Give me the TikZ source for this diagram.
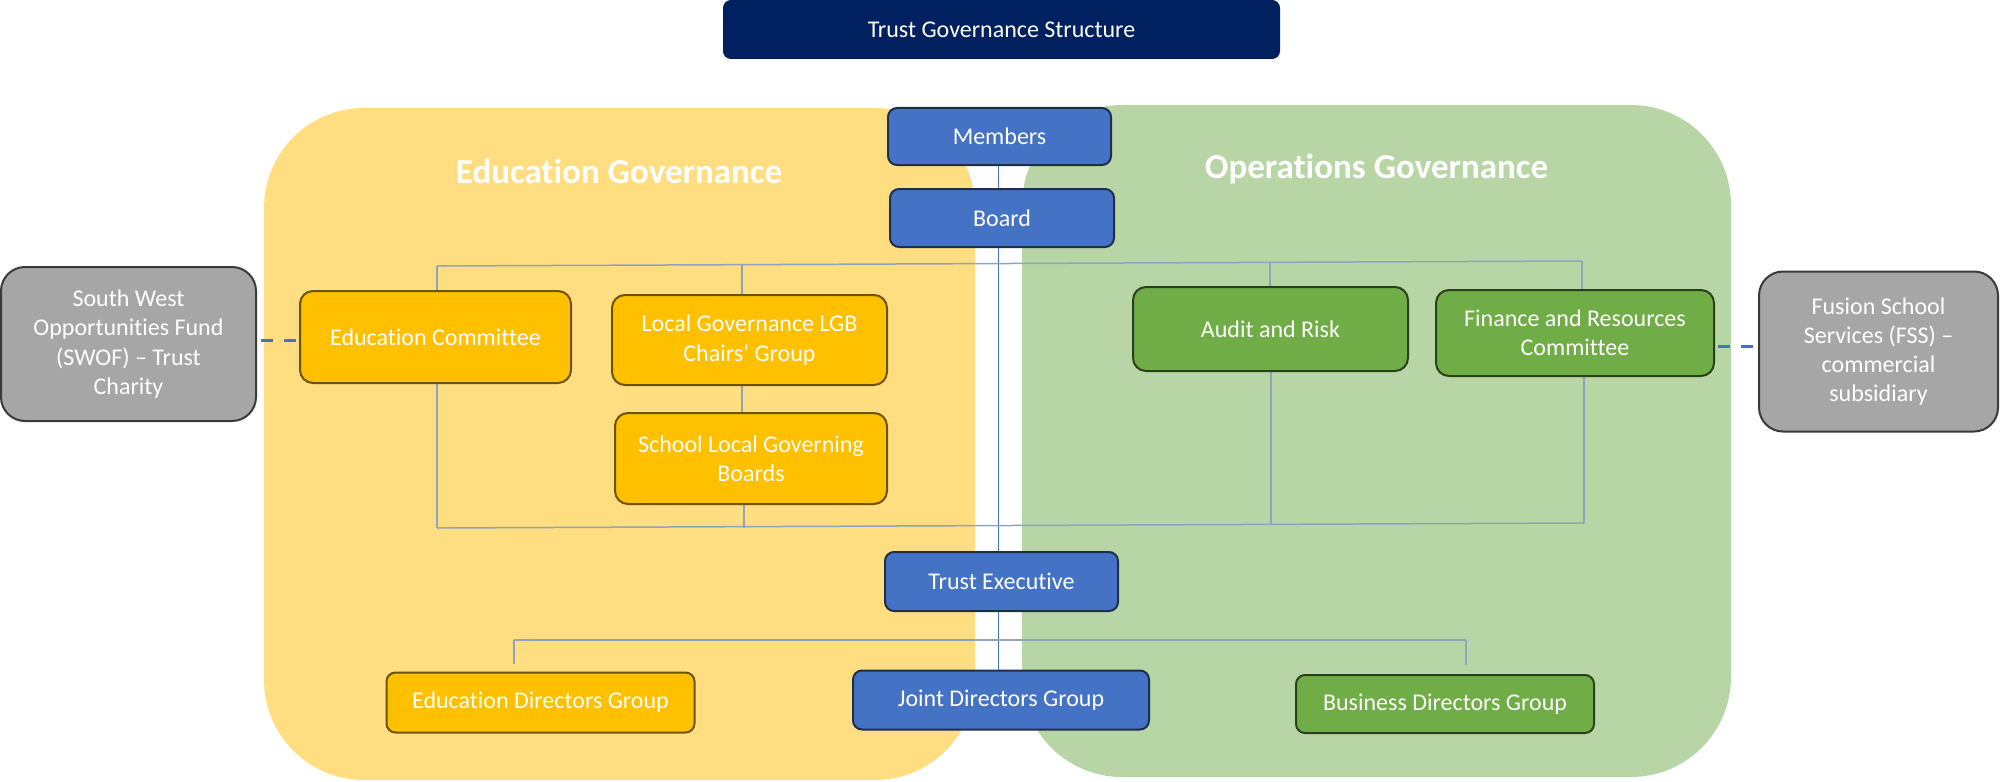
\documentclass[tikz,border=0pt]{standalone}
\usepackage{fontspec}
\setmainfont{Carlito}[Ligatures={NoCommon}]
\definecolor{navy}{HTML}{002060}
\definecolor{bluebox}{HTML}{4472C4}
\definecolor{blueedge}{HTML}{1F2E4F}
\definecolor{orangebox}{HTML}{FFC000}
\definecolor{orangeedge}{HTML}{6B5310}
\definecolor{greenbox}{HTML}{70AD47}
\definecolor{greenedge}{HTML}{2A3F1E}
\definecolor{graybox}{HTML}{A6A6A6}
\definecolor{grayedge}{HTML}{3A3A3A}
\definecolor{yellowbg}{HTML}{FFDE82}
\definecolor{greenbg}{HTML}{B8D6A5}
\definecolor{busline}{HTML}{8EA4BF}
\tikzset{
  box/.style={draw, line width=1pt, rounded corners=4.5pt, text=white, align=center, inner sep=0pt,
    font=\fontsize{12}{14.6}\selectfont},
  bluebx/.style={box, fill=bluebox, draw=blueedge},
  orangebx/.style={box, fill=orangebox, draw=orangeedge, rounded corners=6.5pt},
  greenbx/.style={box, fill=greenbox, draw=greenedge, rounded corners=6.5pt},
  graybx/.style={box, fill=graybox, draw=grayedge, rounded corners=12pt},
  bus/.style={draw=busline, line width=0.75pt},
  spine/.style={draw=bluebox, line width=0.45pt},
  dashlink/.style={draw=bluebox, line width=1.5pt, dash pattern=on 6pt off 5.5pt},
  govlabel/.style={text=white, font=\fontsize{17.5}{20}\selectfont\bfseries},
}
\begin{document}
\begin{tikzpicture}[x=0.5pt,y=-0.5pt]
\useasboundingbox (0,0) rectangle (2000,781);
% backgrounds
\fill[yellowbg, rounded corners=50pt] (264,108) rectangle (975,780);
\fill[greenbg, rounded corners=50pt] (1022,105) rectangle (1731,777);
\node[govlabel] (eg) at (619,171) {Education Governance};
\node[govlabel] (og) at (1376.5,169) {Operations Governance};

% nodes
\node[box, fill=navy, draw=navy, rounded corners=3.5pt, minimum width=277.5pt, minimum height=28.5pt] (title) at (1001.5,29.5) {Trust Governance Structure};

\coordinate (sp) at (998,0);
\coordinate (tbl) at (437,266);
\coordinate (tbr) at (1582,261);
\coordinate (bbl) at (437,528);
\coordinate (bbr) at (1584,523);
\coordinate (lbl) at (514,640);
\coordinate (lbr) at (1466,640);
\coordinate (lel) at (514,664);
\coordinate (ler) at (1466,665);

% connectors (drawn first, nodes on top)
\path[spine] (998,165) -- (998,672);
\path[bus] (tbl) -- (tbr);
\path[bus] (bbl) -- (bbr);
\path[bus] (tbl) -- (437,291);
\path[bus] (742,265) -- (742,295);
\path[bus] (1270,262) -- (1270,287);
\path[bus] (437,383) -- (bbl);
\path[bus] (742,385) -- (742,413);
\path[bus] (744,504) -- (744,528);
\path[bus] (1271,371) -- (1271,524);
\path[bus] (tbr) -- (1582,290);
\path[bus] (1584,376) -- (bbr);
\path[bus] (lbl) -- (lbr);
\path[bus] (lbl) -- (lel);
\path[bus] (lbr) -- (ler);

\node[bluebx, minimum width=111.5pt, minimum height=28.5pt] (mem) at (999.5,136.5) {Members};
\node[bluebx, minimum width=112pt, minimum height=29pt] (board) at (1002,218) {Board};
\node[orangebx, minimum width=135.5pt, minimum height=46pt] (edc) at (435.5,337) {Education Committee};
\node[orangebx, minimum width=137.5pt, minimum height=45pt] (lgb) at (749.5,340) {Local Governance LGB\\Chairs’ Group};
\node[orangebx, minimum width=136pt, minimum height=45.5pt] (slgb) at (751,458.5) {School Local Governing\\Boards};
\node[graybx, minimum width=127.5pt, minimum height=77pt] (swof) at (128.5,344) {South West\\Opportunities Fund\\(SWOF) – Trust\\Charity};
\node[greenbx, minimum width=137.5pt, minimum height=42pt] (audit) at (1270.5,329) {Audit and Risk};
\node[greenbx, minimum width=139pt, minimum height=43pt] (frc) at (1575,333) {Finance and Resources\\Committee};
\node[graybx, minimum width=119.5pt, minimum height=80pt] (fss) at (1878.5,351.5) {Fusion School\\Services (FSS) –\\commercial\\subsidiary};
\node[bluebx, minimum width=116.5pt, minimum height=29.5pt] (texec) at (1001.5,581.5) {Trust Executive};
\node[orangebx, rounded corners=4.5pt, minimum width=154pt, minimum height=30pt] (edg) at (540.5,702.5) {Education Directors Group};
\node[bluebx, minimum width=148pt, minimum height=29.5pt] (jdg) at (1001,700) {Joint Directors Group};
\node[greenbx, rounded corners=4.5pt, minimum width=149pt, minimum height=29pt] (bdg) at (1445,704) {Business Directors Group};

% dashed links
\path[dashlink] ([xshift=2pt]swof.east |- 0,340) -- (edc.west |- 0,340);
\path[dashlink] ([xshift=1.5pt]frc.east |- 0,346) -- (fss.west |- 0,346);
\end{tikzpicture}
\end{document}
